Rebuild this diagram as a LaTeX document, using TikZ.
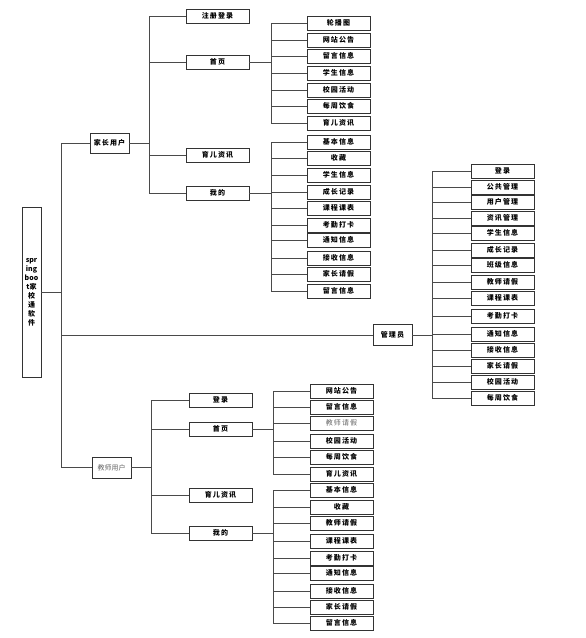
\documentclass[tikz,border=0pt]{standalone}
\usepackage{fontspec}
\setmainfont{Noto Sans CJK SC}
\newcommand\fsz{\fontsize{7}{8}\selectfont\addfontfeature{LetterSpace=15}\bfseries}
\definecolor{boxc}{HTML}{333333}
\definecolor{linec}{HTML}{4A4A4A}
\definecolor{txtgray}{HTML}{666666}
\begin{document}
\begin{tikzpicture}[x=1pt,y=-1pt,
  box/.style={draw=boxc, line width=0.9pt, fill=white, inner sep=0pt,
    minimum height=14pt, minimum width=63pt, font=\fsz},
  mid/.style={box, minimum width=39pt, minimum height=20pt},
  conn/.style={draw=linec, line width=0.8pt}]
\useasboundingbox (0,0) rectangle (586,638);

% root
\node[box, minimum width=19pt, minimum height=170pt, align=center,
  font=\fontsize{7}{9}\selectfont\bfseries] (root) at (31.5,292)
  {spr\\ing\\boo\\t家\\校\\通\\软\\件};

% level 1
\node[mid] (parent) at (109.5,143) {家长用户};
\node[mid, minimum height=21pt] (admin) at (392.5,335) {管理员};
\node[mid, minimum height=21pt, text=txtgray, font=\fontsize{7}{8}\selectfont] (teacher) at (111.5,467.5) {教师用户};

\coordinate (tR) at (61,0);
\draw[conn] (root.east) -- (root.east -| tR);
\draw[conn] (parent.west -| tR) -- (teacher.west -| tR);
\draw[conn] (parent.west) -- (parent.west -| tR);
\draw[conn] (admin.west) -- (admin.west -| tR);
\draw[conn] (teacher.west) -- (teacher.west -| tR);

% parent children
\node[box] (pReg) at (217.5,16) {注册登录};
\node[box] (pHome) at (217.5,62) {首页};
\node[box] (pNews) at (217.5,155) {育儿资讯};
\node[box] (pMine) at (217.5,193) {我的};
\coordinate (tP) at (149,0);
\draw[conn] (parent.east) -- (parent.east -| tP);
\draw[conn] (pReg.west -| tP) -- (pMine.west -| tP);
\foreach \n in {pReg,pHome,pNews,pMine}
  \draw[conn] (\n.west) -- (\n.west -| tP);

% parent home children
\coordinate (tPH) at (271,0);
\draw[conn] (pHome.east) -- (pHome.east -| tPH);
\foreach \t/\y [count=\i] in {轮播图/23,网站公告/40,留言信息/56,学生信息/73,校园活动/90,每周饮食/106,育儿资讯/123}{
  \node[box] (ph\i) at (338.5,\y) {\t};
  \draw[conn] (ph\i.west) -- (ph\i.west -| tPH);
}
\draw[conn] (ph1.west -| tPH) -- (ph7.west -| tPH);

% parent mine children
\coordinate (tPM) at (271,0);
\draw[conn] (pMine.east) -- (pMine.east -| tPM);
\foreach \t/\y [count=\i] in {基本信息/142,收藏/158,学生信息/175,成长记录/192,课程课表/208,考勤打卡/225,通知信息/240,接收信息/258,家长请假/274,留言信息/291}{
  \node[box] (pm\i) at (338.5,\y) {\t};
  \draw[conn] (pm\i.west) -- (pm\i.west -| tPM);
}
\draw[conn] (pm1.west -| tPM) -- (pm10.west -| tPM);

% admin children
\coordinate (tA) at (432,0);
\draw[conn] (admin.east) -- (admin.east -| tA);
\foreach \t/\y [count=\i] in {登录/171,公共管理/187,用户管理/202,资讯管理/218,学生信息/233,成长记录/250,班级信息/265,教师请假/282,课程课表/298,考勤打卡/316,通知信息/334,接收信息/350,家长请假/366,校园活动/382,每周饮食/398}{
  \node[box] (a\i) at (502.5,\y) {\t};
  \draw[conn] (a\i.west) -- (a\i.west -| tA);
}
\draw[conn] (a1.west -| tA) -- (a15.west -| tA);

% teacher children
\node[box] (tLog) at (220.5,400) {登录};
\node[box] (tHome) at (220.5,429) {首页};
\node[box] (tNews) at (220.5,495) {育儿资讯};
\node[box] (tMine) at (220.5,533) {我的};
\coordinate (tT) at (151,0);
\draw[conn] (teacher.east) -- (teacher.east -| tT);
\draw[conn] (tLog.west -| tT) -- (tMine.west -| tT);
\foreach \n in {tLog,tHome,tNews,tMine}
  \draw[conn] (\n.west) -- (\n.west -| tT);

% teacher home children
\coordinate (tTH) at (273,0);
\draw[conn] (tHome.east) -- (tHome.east -| tTH);
\foreach \t/\y [count=\i] in {网站公告/391,留言信息/407,{\mdseries\textcolor{txtgray}{教师请假}}/423,校园活动/441,每周饮食/457,育儿资讯/474}{
  \node[box] (th\i) at (341.5,\y) {\t};
  \draw[conn] (th\i.west) -- (th\i.west -| tTH);
}
\draw[conn] (th1.west -| tTH) -- (th6.west -| tTH);

% teacher mine children
\coordinate (tTM) at (273,0);
\draw[conn] (tMine.east) -- (tMine.east -| tTM);
\foreach \t/\y [count=\i] in {基本信息/490,收藏/507,教师请假/523,课程课表/541,考勤打卡/558,通知信息/573,接收信息/591,家长请假/607,留言信息/623}{
  \node[box] (tm\i) at (341.5,\y) {\t};
  \draw[conn] (tm\i.west) -- (tm\i.west -| tTM);
}
\draw[conn] (tm1.west -| tTM) -- (tm9.west -| tTM);
\end{tikzpicture}
\end{document}
